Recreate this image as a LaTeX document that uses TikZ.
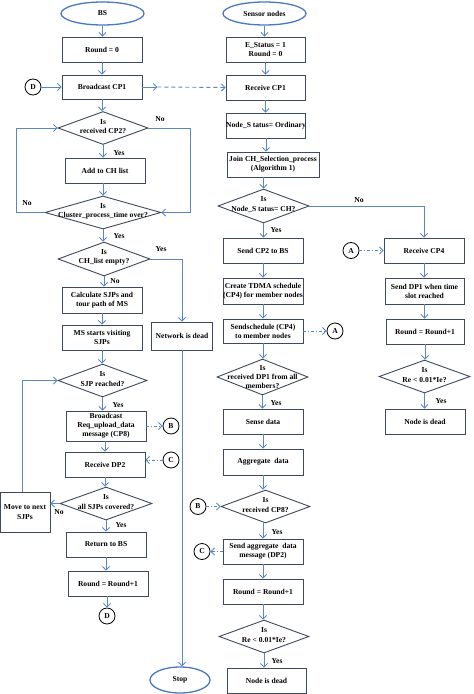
\documentclass[tikz,border=0pt]{standalone}
\usepackage{fontspec}
\setmainfont{Liberation Serif}
\usetikzlibrary{arrows.meta,shapes.geometric}
\definecolor{boxc}{HTML}{3E4A59}
\definecolor{arrc}{HTML}{5A86C5}
\definecolor{ellc}{HTML}{4A78C0}
\begin{document}
\begin{tikzpicture}[x=1bp,y=-1bp,
  every node/.style={font=\bfseries\fontsize{7.6}{9.2}\selectfont, inner sep=0pt, align=center},
  box/.style 2 args={draw=boxc, line width=0.9bp, fill=white, minimum width=#1bp, minimum height=#2bp},
  dia/.style 2 args={draw=boxc, line width=0.9bp, shape=diamond, minimum width=#1bp, minimum height=#2bp},
  ell/.style 2 args={draw=ellc, line width=1.3bp, shape=ellipse, minimum width=#1bp, minimum height=#2bp},
  cir/.style={draw=black, line width=0.8bp, circle, minimum size=16bp},
  arr/.style={draw=arrc, line width=0.9bp, -{Straight Barb[length=3.5bp,width=7bp]}},
  dd/.style={arr, dash pattern=on 3bp off 2bp on 1bp off 2bp},
  lbl/.style={}]
\useasboundingbox (0,0) rectangle (474,694);

% ---------------- left column (BS) ----------------
\node[ell={83}{23}] (bs) at (102.5,13.5) {BS};
\node[box={80}{25}] (r0) at (102,49.5) {Round = 0};
\node[box={80}{24}] (bc1) at (102,87) {Broadcast CP1};
\node[cir] (dD1) at (33,87) {D};
\node[dia={90}{33}] (d1) at (103,128) {};
\node[yshift=1.5bp] (d1t) at (d1) {Is\\received CP2?};
\node[box={80}{25}] (add) at (105,170.5) {Add to CH list};
\node[dia={116}{33}] (d2) at (103,212.5) {};
\node[yshift=1.5bp] (d2t) at (d2) {Is\\Cluster\_process\_time over?};
\node[dia={92}{34}] (d3) at (104,259) {};
\node[yshift=1.5bp] (d3t) at (d3) {Is\\CH\_list empty?};
\node[box={80}{26}] (calc) at (102,300) {Calculate SJPs and\\tour path of MS};
\node[box={80}{25}] (ms) at (102,337.5) {MS starts visiting\\SJPs};
\node[box={61}{28}] (nd) at (182,336) {Network is dead};
\node[ell={60}{26}] (stop) at (180,680) {Stop};
\node[dia={89}{33}] (d4) at (102.5,380.5) {};
\node[yshift=1.5bp] (d4t) at (d4) {Is\\SJP reached?};
\node[box={80}{30}] (req) at (106,426) {Broadcast\\Req\_upload\_data\\message (CP8)};
\node[cir] (b1) at (171,426) {B};
\node[box={80}{25}] (rd2) at (105,464.5) {Receive DP2};
\node[cir] (c1) at (171,460) {C};
\node[dia={92}{33}] (d5) at (106,503.5) {};
\node[yshift=1.5bp] (d5t) at (d5) {Is\\all SJPs covered?};
\node[box={50}{40}] (mv) at (25,512) {Move to next\\SJPs};
\node[box={80}{25}] (ret) at (106,544.5) {Return to BS};
\node[box={80}{25}] (rr1) at (108,583.5) {Round = Round+1};
\node[cir] (dD2) at (107,616) {D};

% ---------------- middle column (sensor nodes) ----------------
\node[ell={83}{23}] (sn) at (264.5,13.5) {Sensor nodes};
\node[box={79}{25}] (es) at (265.5,49.5) {E\_Status = 1\\Round = 0};
\node[box={79}{25}] (rc1) at (265.5,87.5) {Receive CP1};
\node[box={79}{25}] (nso) at (266,125.5) {Node\_S tatus= Ordinary};
\node[box={92}{25}] (join) at (273,164.5) {Join CH\_Selection\_process\\(Algorithm 1)};
\node[dia={91}{34}] (dch) at (263.5,206) {};
\node[yshift=1.5bp] (dcht) at (dch) {Is\\Node\_S tatus= CH?};
\node[box={80}{25}] (scp2) at (263,250.5) {Send CP2 to BS};
\node[box={80}{26}] (tdma) at (263,291) {Create TDMA schedule\\(CP4) for member nodes};
\node[box={80}{24}] (ssch) at (263,331) {Sendschedule (CP4)\\to member nodes};
\node[cir] (a1) at (335,331) {A};
\node[dia={91}{36}] (ddp1) at (262.5,377) {};
\node (ddp1t) at (ddp1) {Is\\received DP1 from all\\members?};
\node[box={80}{25}] (sense) at (263,421.5) {Sense data};
\node[box={80}{26}] (agg) at (263,462) {Aggregate\ \ data};
\node[dia={89}{33}] (dcp8) at (265.5,506.5) {};
\node[yshift=1.5bp] (dcp8t) at (dcp8) {Is\\received CP8?};
\node[cir] (b2) at (198,506.5) {B};
\node[box={80}{25}] (sag) at (263,551.5) {Send aggregate\ \ data\\message (DP2)};
\node[cir] (c2) at (202,551.5) {C};
\node[box={80}{25}] (rr2) at (263,591.5) {Round = Round+1};
\node[dia={90}{33}] (dre2) at (264,636.5) {};
\node[yshift=1.5bp] (dre2t) at (dre2) {Is\\Re < 0.01*Ie?};
\node[box={79}{25}] (nid2) at (266.5,680.5) {Node is dead};

% ---------------- right column ----------------
\node[cir] (a2) at (351,250.5) {A};
\node[box={80}{25}] (rc4) at (424,250.5) {Receive CP4};
\node[box={79}{26}] (sdp1) at (424.5,291) {Send DP1 when time\\slot reached};
\node[box={78}{25}] (rr3) at (425,331.5) {Round = Round+1};
\node[dia={91}{33}] (dre1) at (424.5,376.5) {};
\node[yshift=1.5bp] (dre1t) at (dre1) {Is\\Re < 0.01*Ie?};
\node[box={80}{25}] (nid1) at (425,421.5) {Node is dead};

% ---------------- labels ----------------
\node[lbl] (l1) at (160,119) {No};
\node[lbl] (l2) at (27,203) {No};
\node[lbl] (l3) at (119,153) {Yes};
\node[lbl] (l4) at (119,236) {Yes};
\node[lbl] (l5) at (161,249) {Yes};
\node[lbl] (l6) at (115,281) {No};
\node[lbl] (l7) at (118,405) {Yes};
\node[lbl] (l8) at (59,512) {No};
\node[lbl] (l9) at (121,525) {Yes};
\node[lbl] (l10) at (359,200) {No};
\node[lbl] (l11) at (276,230) {Yes};
\node[lbl] (l12) at (276,403) {Yes};
\node[lbl] (l13) at (441,401) {Yes};
\node[lbl] (l14) at (277,532) {Yes};
\node[lbl] (l15) at (277,661) {Yes};

% ---------------- connectors: left ----------------
\draw[arr] (bs.south) -- (bs.south |- r0.north);
\draw[arr] (r0.south) -- (r0.south |- bc1.north);
\draw[arr] (bc1.south) -- (bc1.south |- d1.north);
\draw[arr] (d1.south) -- (d1.south |- add.north);
\draw[arr] (d2.north |- add.south) -- (d2.north);
\draw[arr] (d2.south) -- (d2.south |- d3.north);
\draw[arr] (d3.south) -- (d3.south |- calc.north);
\draw[arr] (calc.south) -- (calc.south |- ms.north);
\draw[arr] (ms.south) -- (ms.south |- d4.north);
\draw[arr] (d4.south) -- (d4.south |- req.north);
\draw[arr] (rd2.north |- req.south) -- (rd2.north);
\draw[arr] (rd2.south) -- (rd2.south |- d5.north);
\draw[arr] (d5.south) -- (d5.south |- ret.north);
\draw[arr] (ret.south) -- (ret.south |- rr1.north);
\draw[arr] (rr1.south -| dD2.north) -- (dD2.north);
\draw[arr] (dD1.east) -- (bc1.west);
\draw[arr] (d1.east) -- ++(42,0) |- (d2.east);
\draw[arr] (d2.west) -- ++(-28,0) |- (d1.west);
\draw[arr] (d3.east) -| (nd.north);
\draw[arr] (nd.south) -- (nd.south |- stop.north);
\draw[arr] (d5.west) -- (d5.west -| mv.east);
\draw[arr] ([xshift=-3bp]mv.north) |- (d4.west);
\draw[dd] (req.east) -- (b1.west);
\draw[dd] (c1.west) -- (c1.west -| rd2.east);
\draw[arr] (bc1.east) -- ++(15,0) coordinate (m1);
\draw[arr, dash pattern=on 4bp off 3bp] (m1) -- (rc1.west);

% ---------------- connectors: middle ----------------
\draw[arr] (sn.south) -- (sn.south |- es.north);
\draw[arr] (es.south) -- (es.south |- rc1.north);
\draw[arr] (rc1.south) -- (rc1.south |- nso.north);
\draw[arr] (nso.south) -- (nso.south |- join.north);
\draw[arr] (dch.north |- join.south) -- (dch.north);
\draw[arr] (dch.south) -- (dch.south |- scp2.north);
\draw[arr] (scp2.south) -- (scp2.south |- tdma.north);
\draw[arr] (tdma.south) -- (tdma.south |- ssch.north);
\draw[arr] (ssch.south) -- (ssch.south |- ddp1.north);
\draw[arr] (ddp1.south) -- (ddp1.south |- sense.north);
\draw[arr] (sense.south) -- (sense.south |- agg.north);
\draw[arr] (agg.south) -- (agg.south |- dcp8.north);
\draw[arr] (sag.north |- dcp8.south) -- (sag.north);
\draw[arr] (sag.south) -- (sag.south |- rr2.north);
\draw[arr] (rr2.south) -- (rr2.south |- dre2.north);
\draw[arr] (dre2.south) -- (dre2.south |- nid2.north);
\draw[dd] (ssch.east) -- (a1.west);
\draw[dd] (b2.east) -- (dcp8.west);
\draw[dd] (sag.west) -- (c2.east);

% ---------------- connectors: right ----------------
\draw[arr] (dch.east) -| (rc4.north);
\draw[dd] (a2.east) -- (rc4.west);
\draw[arr] (rc4.south) -- (rc4.south |- sdp1.north);
\draw[arr] (sdp1.south) -- (sdp1.south |- rr3.north);
\draw[arr] (rr3.south) -- (rr3.south |- dre1.north);
\draw[arr] (dre1.south) -- (dre1.south |- nid1.north);
\end{tikzpicture}
\end{document}
